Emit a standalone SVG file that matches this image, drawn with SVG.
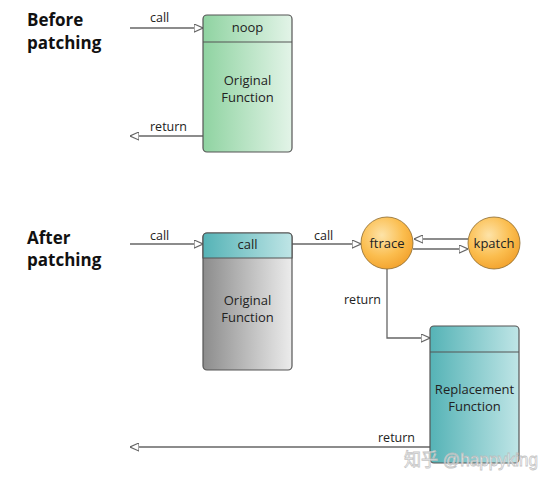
<svg xmlns="http://www.w3.org/2000/svg" width="554" height="483" viewBox="0 0 554 483">
<style>
.h{font-family:"Open Sans","Liberation Sans",sans-serif;font-weight:bold;font-size:17px;fill:#111}
.t{font-family:"Open Sans","Liberation Sans",sans-serif;font-size:13px;fill:#222}
.l{font-family:"Open Sans","Liberation Sans",sans-serif;font-size:12.5px;fill:#222}
.c{stroke:#666;stroke-width:1.3;fill:none}
.box{stroke:#555;stroke-width:1.2}
.wm{font-family:"Liberation Sans","Noto Sans CJK SC",sans-serif;font-size:18px;fill:#fff;stroke:#bbb;stroke-width:0.8;opacity:0.85}
</style>
<defs>
<marker id="a" viewBox="0 0 10 10" refX="10" refY="5" markerWidth="9" markerHeight="9" markerUnits="userSpaceOnUse" orient="auto">
<path d="M0,0.5 L10,5 L0,9.5 Z" fill="#fff" stroke="#666" stroke-width="1.3"/>
</marker>
<linearGradient id="g" x1="0" x2="1" y1="0" y2="0"><stop offset="0" stop-color="#8fd3a1"/><stop offset="1" stop-color="#e3f4e8"/></linearGradient>
<linearGradient id="gr" x1="0" x2="1" y1="0" y2="0"><stop offset="0" stop-color="#8c8c8c"/><stop offset="1" stop-color="#ececec"/></linearGradient>
<linearGradient id="tl" x1="0" x2="1" y1="0" y2="0"><stop offset="0" stop-color="#55b3b6"/><stop offset="1" stop-color="#bfe5e6"/></linearGradient>
<radialGradient id="or" cx="0.4" cy="0.35" r="0.7"><stop offset="0" stop-color="#fde3a8"/><stop offset="0.6" stop-color="#fbbd4e"/><stop offset="1" stop-color="#f2a12c"/></radialGradient>
</defs>
<rect width="554" height="483" fill="#fff"/>

<text class="h" x="27" y="26">Before</text>
<text class="h" x="27" y="49">patching</text>
<text class="h" x="27" y="244">After</text>
<text class="h" x="27" y="266">patching</text>

<g id="connectors">
<line class="c" x1="130" y1="28" x2="203" y2="28" marker-end="url(#a)"/>
<text class="l" x="150" y="22">call</text>
<line class="c" x1="203" y1="136" x2="130" y2="136" marker-end="url(#a)"/>
<text class="l" x="150" y="131">return</text>
<line class="c" x1="130" y1="244" x2="203" y2="244" marker-end="url(#a)"/>
<text class="l" x="150" y="240">call</text>
<line class="c" x1="292" y1="244" x2="361" y2="244" marker-end="url(#a)"/>
<text class="l" x="314" y="240">call</text>
<line class="c" x1="468" y1="239" x2="414" y2="239" marker-end="url(#a)"/>
<line class="c" x1="413" y1="249" x2="468" y2="249" marker-end="url(#a)"/>
<polyline class="c" points="387,269 387,338 430,338" marker-end="url(#a)"/>
<text class="l" x="344" y="304">return</text>
<line class="c" x1="430" y1="447" x2="130" y2="447" marker-end="url(#a)"/>
<text class="l" x="378" y="442">return</text>
</g>

<g id="noop-box">
<rect class="box" x="203" y="15" width="89" height="137" rx="4" fill="url(#g)"/>
<line x1="203" y1="42" x2="292" y2="42" stroke="#555" stroke-width="1.2"/>
<text class="t" x="247.5" y="32" text-anchor="middle">noop</text>
<text class="t" x="247.5" y="85" text-anchor="middle">Original</text>
<text class="t" x="247.5" y="102" text-anchor="middle">Function</text>
</g>

<g id="original-box">
<rect class="box" x="203" y="233" width="89" height="137" rx="4" fill="url(#gr)"/>
<path d="M203,258 V237 a4,4 0 0 1 4,-4 H288 a4,4 0 0 1 4,4 V258 Z" fill="url(#tl)" stroke="#555" stroke-width="1.2"/>
<text class="t" x="247.5" y="249" text-anchor="middle">call</text>
<text class="t" x="247.5" y="305" text-anchor="middle">Original</text>
<text class="t" x="247.5" y="322" text-anchor="middle">Function</text>
</g>

<g id="ftrace">
<circle cx="387" cy="243" r="26" fill="url(#or)" stroke="#8a6a30" stroke-width="0.8"/>
<text class="t" x="387" y="248" text-anchor="middle">ftrace</text>
</g>

<g id="kpatch">
<circle cx="494" cy="243" r="26" fill="url(#or)" stroke="#8a6a30" stroke-width="0.8"/>
<text class="t" x="494" y="248" text-anchor="middle">kpatch</text>
</g>

<g id="replacement-box">
<rect class="box" x="430" y="326" width="89" height="137" rx="4" fill="url(#tl)"/>
<line x1="430" y1="352" x2="519" y2="352" stroke="#555" stroke-width="1.2"/>
<text class="t" x="474.5" y="394" text-anchor="middle">Replacement</text>
<text class="t" x="474.5" y="411" text-anchor="middle">Function</text>
</g>

<text class="wm" x="404" y="466" textLength="134" lengthAdjust="spacingAndGlyphs">知乎 @happyking</text>
</svg>
